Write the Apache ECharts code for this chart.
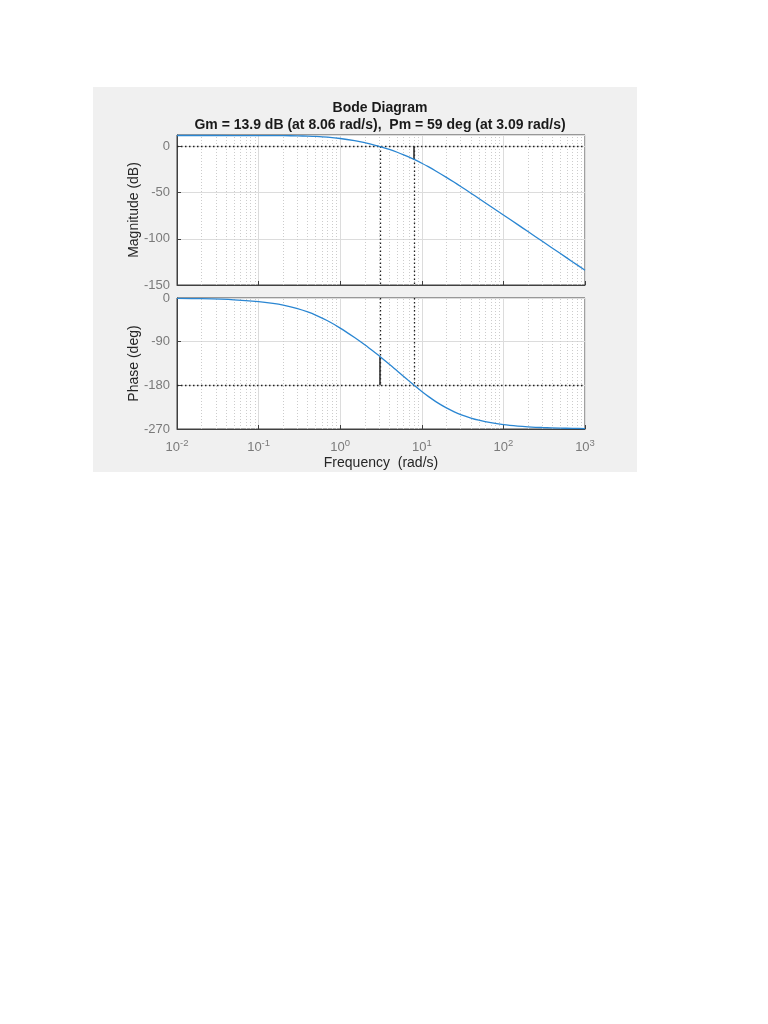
<!DOCTYPE html>
<html>
<head>
<meta charset="utf-8">
<script src="https://cdn.jsdelivr.net/npm/echarts@6/dist/echarts.min.js"></script>
<style>
html,body{margin:0;padding:0;background:#fff;}
#chart{width:768px;height:1024px;}
</style>
</head>
<body>
<div id="chart"></div>
<script>
// Frequencies (rad/s)
const freq = [0.01,0.02,0.05,0.1,0.15,0.2,0.3,0.4,0.5,0.7,1,1.5,2,3,3.09,4,5,6,7,8.06,10,12,15,20,25,30,40,50,70,100,150,200,300,500,700,1000];
// Magnitude (dB)
const magDb = [12.04,12.04,12.03,12.00,11.94,11.86,11.65,11.36,11.02,10.20,8.82,6.45,4.24,0.33,0.01,-3.06,-6.09,-8.85,-11.41,-13.91,-18.00,-21.75,-26.64,-33.31,-38.70,-43.21,-50.46,-56.15,-64.82,-74.05,-84.59,-92.08,-102.63,-115.94,-124.71,-134.0];
// Phase (deg)
const phaseDeg = [-0.75,-1.49,-3.72,-7.43,-11.11,-14.75,-21.85,-28.67,-35.14,-46.97,-62.02,-81.54,-96.55,-119.23,-120.95,-136.43,-150.26,-161.70,-171.32,-180.0,-192.72,-202.81,-214.06,-226.54,-234.60,-240.19,-247.41,-251.83,-256.97,-260.85,-263.90,-265.42,-266.95,-268.17,-268.69,-269.08];
// Minor grid frequencies
const minorFreq = [0.02,0.03,0.04,0.05,0.06,0.07,0.08,0.09,0.2,0.3,0.4,0.5,0.6,0.7,0.8,0.9,2,3,4,5,6,7,8,9,20,30,40,50,60,70,80,90,200,300,400,500,600,700,800,900];
const magTicks = [-150,-100,-50,0];
const phaseTicks = [-270,-180,-90,0];
// Stability margins
const gmDb = 13.9, wcg = 8.06, pmDeg = 59, wcp = 3.09;
const magAtWcg = -13.9, phaseAtWcp = -121;

const titleText = 'Bode Diagram';
const subtitleText = 'Gm = 13.9 dB (at 8.06 rad/s),  Pm = 59 deg (at 3.09 rad/s)';

const chart = echarts.init(document.getElementById('chart'), null, {renderer:'canvas'});
const F = 'Liberation Sans, Arial, Helvetica, sans-serif';
const labelColor = '#7a7a7a';
const boxColor = '#404040';
const blue = '#2a86d2';

const magData = freq.map((f,i)=>[f,magDb[i]]);
const phaseData = freq.map((f,i)=>[f,phaseDeg[i]]);

const dotted = {type:[1,2], color:'#cccccc', width:1};
const blackDot = {type:[1.5,2.5], color:'#222', width:1.3};
const solidBlack = {type:'solid', color:'#333', width:1.6};

function minorLines(){ return minorFreq.map(v=>({xAxis:v, lineStyle:dotted})); }

function xAxisBase(idx, showLabel){
  return {
    type:'log', logBase:10, gridIndex:idx, min:0.01, max:1000,
    axisLine:{show:true, onZero:false, lineStyle:{color:boxColor}},
    axisTick:{show:true, inside:true, length:4, lineStyle:{color:boxColor}},
    splitLine:{show:true, lineStyle:{color:'#dcdcdc', width:1}},
    axisLabel:{show:showLabel, fontFamily:F, fontSize:13, color:labelColor, margin:9,
      formatter:function(v){ const e=Math.round(Math.log10(v)); return '{b|10}{s|'+e+'}'; },
      rich:{b:{fontFamily:F,fontSize:13,color:labelColor}, s:{fontFamily:F,fontSize:9.5,color:labelColor,padding:[0,0,8,0]}}
    },
    name: showLabel ? 'Frequency  (rad/s)' : '',
    nameLocation:'middle', nameGap:27, nameMoveOverlap:false,
    nameTextStyle:{fontFamily:F, fontSize:14, color:'#262626'}
  };
}

function yAxisBase(idx, min, max, interval, ticks, name){
  return {
    type:'value', gridIndex:idx, min:min, max:max, interval:interval,
    axisLine:{show:true, onZero:false, lineStyle:{color:boxColor}},
    axisTick:{show:true, inside:true, length:4, lineStyle:{color:boxColor}},
    splitLine:{show:true, lineStyle:{color:'#dcdcdc', width:1}},
    axisLabel:{fontFamily:F, fontSize:13, color:labelColor, margin:7,
      formatter:function(v){ return ticks.indexOf(v)>=0 ? String(v) : ''; }},
    name:name, nameLocation:'middle', nameGap:36, nameMoveOverlap:false,
    nameTextStyle:{fontFamily:F, fontSize:14, color:'#262626'}
  };
}

const option = {
  backgroundColor:'#ffffff',
  animation:false,
  graphic:[
    {type:'rect', shape:{x:93,y:87,width:544,height:385}, style:{fill:'#f0f0f0'}, z:-10, silent:true},
    {type:'text', style:{text:titleText, x:380, y:108.5, textAlign:'center', textVerticalAlign:'middle', font:'bold 14px '+F, fill:'#1a1a1a'}, z:10},
    {type:'text', style:{text:subtitleText, x:380, y:125.5, textAlign:'center', textVerticalAlign:'middle', font:'bold 14px '+F, fill:'#1a1a1a'}, z:10}
  ],
  grid:[
    {left:177, top:135, width:408, height:150, show:true, backgroundColor:'#ffffff', borderColor:boxColor, borderWidth:1, containLabel:false},
    {left:177, top:298, width:408, height:131, show:true, backgroundColor:'#ffffff', borderColor:boxColor, borderWidth:1, containLabel:false}
  ],
  xAxis:[ xAxisBase(0,false), xAxisBase(1,true) ],
  yAxis:[
    yAxisBase(0,-150,12.6,50,magTicks,'Magnitude (dB)'),
    yAxisBase(1,-270,0,90,phaseTicks,'Phase (deg)')
  ],
  series:[
    {type:'line', xAxisIndex:0, yAxisIndex:0, data:magData, showSymbol:false, silent:true, z:1,
     lineStyle:{opacity:0},
     markLine:{silent:true, symbol:['none','none'], label:{show:false}, animation:false,
       data: minorLines().concat([
         {yAxis:0, lineStyle:blackDot},
         [{coord:[wcp,0], lineStyle:blackDot},{coord:[wcp,-150]}],
         [{coord:[wcg,0], lineStyle:blackDot},{coord:[wcg,-150]}],
         [{coord:[wcg,0], lineStyle:solidBlack},{coord:[wcg,magAtWcg]}]
       ])}
    },
    {type:'line', xAxisIndex:0, yAxisIndex:0, data:magData, showSymbol:false, smooth:0.3, silent:true, z:5,
     lineStyle:{color:blue, width:1.3}},
    {type:'line', xAxisIndex:1, yAxisIndex:1, data:phaseData, showSymbol:false, silent:true, z:1,
     lineStyle:{opacity:0},
     markLine:{silent:true, symbol:['none','none'], label:{show:false}, animation:false,
       data: minorLines().concat([
         {yAxis:-180, lineStyle:blackDot},
         [{coord:[wcp,0], lineStyle:blackDot},{coord:[wcp,-180]}],
         [{coord:[wcg,0], lineStyle:blackDot},{coord:[wcg,-180]}],
         [{coord:[wcp,-180], lineStyle:solidBlack},{coord:[wcp,phaseAtWcp]}]
       ])}
    },
    {type:'line', xAxisIndex:1, yAxisIndex:1, data:phaseData, showSymbol:false, smooth:0.3, silent:true, z:5,
     lineStyle:{color:blue, width:1.3}}
  ]
};
chart.setOption(option);
</script>
</body>
</html>
